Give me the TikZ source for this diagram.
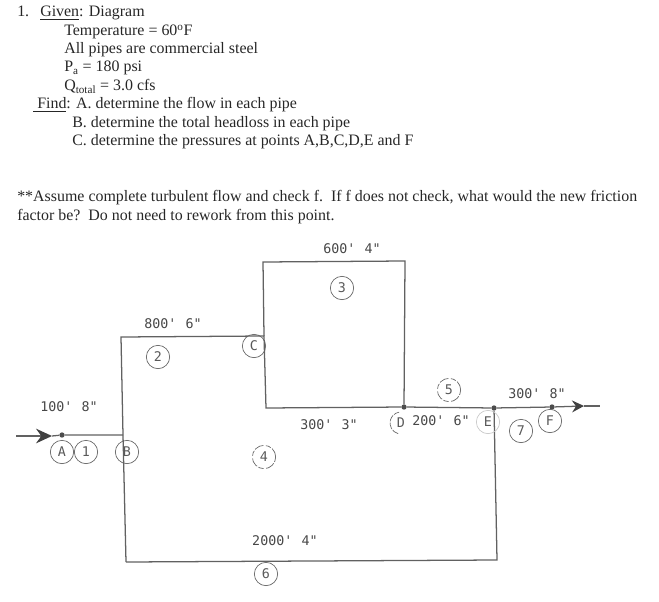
\documentclass[tikz,border=0pt]{standalone}
\usepackage{fontspec}
\setmainfont{Liberation Serif}
\newfontfamily\pipefont{DejaVu Sans Mono}
\usetikzlibrary{arrows.meta}

\tikzset{
	line/.style={anchor=base west,inner sep=0pt,font=\fontsize{11.95}{13}\selectfont,text=black!85},
	pipe/.style={line width=0.95pt,color=black!62},
	size/.style={inner sep=0pt,font=\pipefont\fontsize{10}{11}\selectfont,text=black!72},
	ring/.style={circle,draw=black!62,line width=0.5pt,minimum size=17.5pt,inner sep=0pt,font=\pipefont\fontsize{10}{10}\selectfont,text=black!65},
	brokenring/.style={ring,dash pattern=on 7pt off 1.2pt on 4pt off 2pt},
	fadedring/.style={ring,draw=black!22},
	letter/.style={inner sep=0pt,font=\pipefont\fontsize{10}{10}\selectfont,text=black!65},
	joint/.style={circle,fill=black!70,inner sep=0pt,minimum size=4pt}
}

\begin{document}
\begin{tikzpicture}[x=0.75pt,y=-0.75pt]

	\useasboundingbox (0,0) rectangle (659,602);

	% problem statement

	\node[line] (number) at (17,17) {1.};
	\node[line] (given) at (40,17) {\underline{Given}: Diagram};
	\node[line] (temp) at (64,36) {Temperature = 60\textsuperscript{o}F};
	\node[line] (steel) at (64,54) {All pipes are commercial steel};
	\node[line] (press) at (64,72) {P\textsubscript{a} = 180 psi};
	\node[line] (flow) at (64,91) {Q\textsubscript{total} = 3.0 cfs};
	\node[line] (find) at (33,109) {\underline{\ Find}: A. determine the flow in each pipe};
	\node[line] (findb) at (72,128) {B. determine the total headloss in each pipe};
	\node[line] (findc) at (72,146) {C. determine the pressures at points A,B,C,D,E and F};
	\node[line] (assume) at (17,201) {**Assume complete turbulent flow and check f.\ \ If f does not check, what would the new friction};
	\node[line] (factor) at (17,220) {factor be?\ \ Do not need to rework from this point.};

	% pipe junctions

	\coordinate (in) at (16,436);
	\coordinate (tipA) at (52,436);
	\node[joint] (A) at (62,435) {};
	\coordinate (B) at (123,435);
	\coordinate (T2) at (121,337);
	\coordinate (C) at (264,336);
	\coordinate (T3) at (263,262);
	\coordinate (T4) at (405,261);
	\node[joint] (D) at (404,407) {};
	\coordinate (T5) at (266,408);
	\node[joint] (E) at (494,408) {};
	\node[joint] (F) at (552,407) {};
	\coordinate (tipF) at (584,406);
	\coordinate (out) at (600,406);
	\coordinate (T6) at (126,562);
	\coordinate (T7) at (497,560);

	% pipes

	\draw[pipe,-{Stealth[length=12pt,width=11pt,inset=4pt,color=black!75]}] (in) -- (tipA);
	\draw[pipe] (tipA) -- (A) -- (B);
	\draw[pipe] (T6) -- (B) -- (T2) -- (C) -- (T5) -- (D) -- (E) -- (F);
	\draw[pipe] (C) -- (T3) -- (T4) -- (D);
	\draw[pipe] (T6) -- (T7) -- (E);
	\draw[pipe,-{Stealth[length=9pt,width=9pt,inset=3pt,color=black!75]}] (F) -- (tipF);
	\draw[pipe] (tipF) -- (out);

	% pipe sizes

	\node[size] (len1) at (69,407) {100'\hspace{7pt}8"};
	\node[size] (len2) at (173,324) {800'\hspace{7pt}6"};
	\node[size] (len3) at (352,249) {600'\hspace{7pt}4"};
	\node[size] (len4) at (329,425) {300'\hspace{7pt}3"};
	\node[size] (len5) at (441,421) {200'\hspace{7pt}6"};
	\node[size] (len6) at (285,541) {2000'\hspace{7pt}4"};
	\node[size] (len7) at (537,394) {300'\hspace{7pt}8"};

	% pipe numbers and points

	\node[ring] (ringA) at (62,452) {A};
	\node[ring] (ring1) at (86,452) {1};
	\node[ring] (ringB) at (127,452) {B};
	\node[ring] (ringC) at (254,346) {C};
	\node[ring] (ring2) at (158,357) {2};
	\node[ring] (ring3) at (342,288) {3};
	\node[brokenring] (ring4) at (264,457) {4};
	\node[brokenring] (ring5) at (449,390) {5};
	\node[letter] (ringD) at (401,423) {D};
	\draw[black!62,line width=0.5pt,dash pattern=on 5pt off 1pt] (ringD) ++(105:11) arc (105:260:11);
	\node[fadedring] (ringE) at (488,422) {E};
	\node[ring] (ring7) at (521,431) {7};
	\node[ring] (ringF) at (550,421) {F};
	\node[ring] (ring6) at (266,574) {6};

\end{tikzpicture}
\end{document}
